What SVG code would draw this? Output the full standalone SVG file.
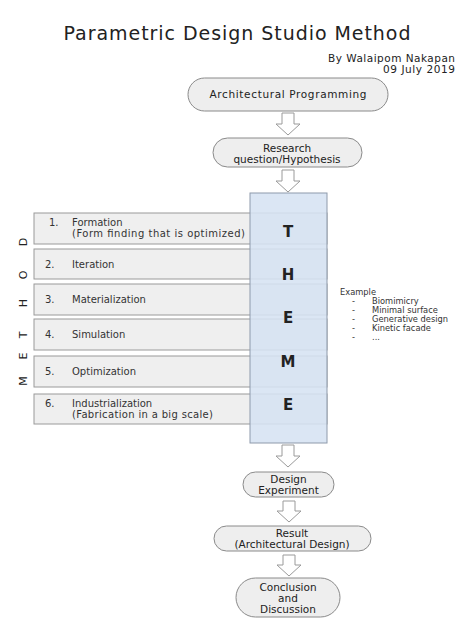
<svg xmlns="http://www.w3.org/2000/svg" width="474" height="632" viewBox="0 0 474 632">
<style>
text{font-family:"DejaVu Sans","Liberation Sans",sans-serif;fill:#222}
.t{font-size:10.5px;text-anchor:middle}
.r{font-size:10px;fill:#333}
.ex{font-size:8.3px;fill:#333}
.node{fill:#eeeeee;stroke:#8a8a8a;stroke-width:1}
.row{fill:#efefef;stroke:#9a9a9a;stroke-width:1}
.arr{fill:#ffffff;stroke:#9a9a9a;stroke-width:1;stroke-linejoin:miter}
.th{font-size:15px;text-anchor:middle;font-weight:600;fill:#222}
</style>
<rect width="474" height="632" fill="#ffffff"/>
<text x="237" y="40" font-size="19" text-anchor="middle" textLength="347">Parametric Design Studio Method</text>
<text x="455" y="62" font-size="10.5" text-anchor="end" textLength="127" fill="#333">By Walaipom Nakapan</text>
<text x="455" y="73" font-size="10.5" text-anchor="end" textLength="72" fill="#333">09 July 2019</text>

<g id="method-rows">
<g id="row1"><rect class="row" x="34" y="213" width="293" height="31"/>
<text class="r" x="49" y="226">1.</text><text class="r" x="72" y="226">Formation</text><text class="r" x="72" y="237" textLength="173">(Form finding that is optimized)</text></g>
<g id="row2"><rect class="row" x="34" y="249" width="293" height="30"/>
<text class="r" x="45" y="268">2.</text><text class="r" x="72" y="268">Iteration</text></g>
<g id="row3"><rect class="row" x="34" y="284" width="293" height="31"/>
<text class="r" x="45" y="303">3.</text><text class="r" x="72" y="303">Materialization</text></g>
<g id="row4"><rect class="row" x="34" y="319" width="293" height="31"/>
<text class="r" x="45" y="338">4.</text><text class="r" x="72" y="338">Simulation</text></g>
<g id="row5"><rect class="row" x="34" y="356" width="293" height="31"/>
<text class="r" x="45" y="375">5.</text><text class="r" x="72" y="375">Optimization</text></g>
<g id="row6"><rect class="row" x="34" y="394" width="293" height="30"/>
<text class="r" x="45" y="407">6.</text><text class="r" x="72" y="407">Industrialization</text><text class="r" x="72" y="418" textLength="141">(Fabrication in a big scale)</text></g>
</g>

<text transform="rotate(-90)" x="-381 -356 -335 -303 -275 -242" y="27" font-size="11" text-anchor="middle" fill="#222">METHOD</text>

<g id="theme">
<rect x="250" y="193" width="77" height="250" fill="#d6e3f2" fill-opacity="0.88" stroke="#8e9aab" stroke-width="1"/>
<text class="th" x="288" y="237">T</text>
<text class="th" x="288" y="280">H</text>
<text class="th" x="288" y="323">E</text>
<text class="th" x="288" y="367">M</text>
<text class="th" x="288" y="410">E</text>
</g>

<g id="example">
<text class="ex" x="340" y="295">Example</text>
<text class="ex" x="352" y="304">-</text><text class="ex" x="372" y="304">Biomimicry</text>
<text class="ex" x="352" y="313">-</text><text class="ex" x="372" y="313">Minimal surface</text>
<text class="ex" x="352" y="322">-</text><text class="ex" x="372" y="322">Generative design</text>
<text class="ex" x="352" y="331">-</text><text class="ex" x="372" y="331">Kinetic facade</text>
<text class="ex" x="352" y="340">-</text><text class="ex" x="372" y="340">...</text>
</g>

<g id="n-programming"><rect class="node" x="188" y="78" width="200" height="33" rx="16.5"/>
<text class="t" x="288" y="98" textLength="157">Architectural Programming</text></g>
<g id="n-research"><rect class="node" x="213" y="138" width="149" height="29" rx="14.5"/>
<text class="t" x="287" y="152">Research</text><text class="t" x="287" y="163">question/Hypothesis</text></g>
<g id="n-experiment"><rect class="node" x="243" y="472" width="91" height="25" rx="12.5"/>
<text class="t" x="288.5" y="482.5">Design</text><text class="t" x="288.5" y="494">Experiment</text></g>
<g id="n-result"><rect class="node" x="214" y="526" width="157" height="25" rx="12.5"/>
<text class="t" x="292" y="537">Result</text><text class="t" x="292" y="548">(Architectural Design)</text></g>
<g id="n-conclusion"><rect class="node" x="236" y="578" width="104" height="39" rx="19.5"/>
<text class="t" x="288" y="591">Conclusion</text><text class="t" x="288" y="602">and</text><text class="t" x="288" y="613">Discussion</text></g>

<g id="connectors">
<path class="arr" d="M282,113 H294 V124 H300 L288,135 L276,124 H282 Z"/>
<path class="arr" d="M282,170 H294 V181 H300 L288,192 L276,181 H282 Z"/>
<path class="arr" d="M282,445 H294 V456 H300 L288,467 L276,456 H282 Z"/>
<path class="arr" d="M283,501 H295 V511 H301 L289,522 L277,511 H283 Z"/>
<path class="arr" d="M283,555 H295 V565 H301 L289,576 L277,565 H283 Z"/>
</g>
</svg>
